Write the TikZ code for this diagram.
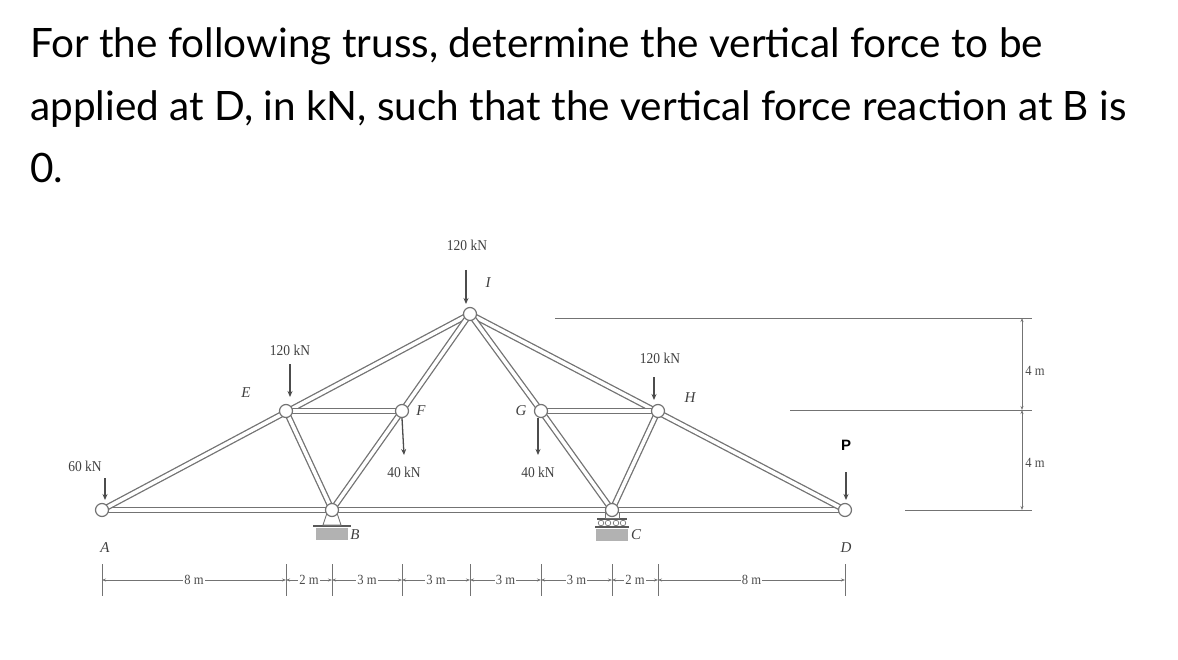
\documentclass[tikz,border=0pt]{standalone}
\usepackage{fontspec}
\setmainfont{Liberation Serif}
\newfontfamily\lato{Lato}
\newfontfamily\sans{Liberation Sans}
\usetikzlibrary{arrows.meta}
\begin{document}
\begin{tikzpicture}[x=1pt,y=-1pt,
  member/.style={draw=black!55,double=white,double distance=3.6pt,line width=1.3pt},
  joint/.style={circle,draw=black!55,fill=white,line width=1.2pt,inner sep=0pt,minimum size=13pt},
  lbl/.style={font=\fontsize{15}{15}\selectfont\itshape,text=black!75},
  load/.style={font=\fontsize{15}{15}\selectfont,text=black!75,inner sep=1pt,xscale=0.9},
  force/.style={-{Stealth[length=6pt,width=5pt]},draw=black!70,line width=1.3pt},
  title/.style={font=\lato\fontsize{40.5}{40.5}\selectfont,anchor=base west,inner sep=0pt},
  dim/.style={draw=black!55,line width=0.7pt},
  dimtxt/.style={font=\fontsize{14}{14}\selectfont,text=black!70,fill=white,inner sep=1pt,xscale=0.9}]
\useasboundingbox (0,0) rectangle (1178,660);
\node[title] (t1) at (30,58) {For the following truss, determine the vertical force to be};
\node[title] (t2) at (30,121) {applied at D, in kN, such that the vertical force reaction at B is};
\node[title] (t3) at (30,183) {0.};
% joint coordinates
\coordinate (A) at (102,510);
\coordinate (B) at (332,510);
\coordinate (C) at (612,510);
\coordinate (D) at (845,510);
\coordinate (E) at (286,411);
\coordinate (F) at (402,411);
\coordinate (I) at (470,314);
\coordinate (G) at (541,411);
\coordinate (H) at (658,411);
% supports
\fill[black!30] (316,528) rectangle (348,540);
\draw[black!65,line width=1.6pt] (313,526) -- (351,526);
\draw[black!55,fill=white,line width=0.9pt] (327,513) -- (323,525) -- (341,525) -- (337,513);
\fill[black!30] (596,529) rectangle (628,541);
\draw[black!65,line width=1.3pt] (595,527) -- (629,527);
\draw[black!65,line width=1.3pt] (597,519) -- (627,519);
\foreach \cx in {601,608,616,623} \draw[black!60,fill=white,line width=0.6pt] (\cx,523) circle (2.8pt);
\draw[black!55,fill=white,line width=0.9pt] (605,512) -- (605,518) -- (619,518) -- (619,512);
% members
\draw[member] (A) -- (D);
\draw[member] (A) -- (I);
\draw[member] (I) -- (D);
\draw[member] (E) -- (F);
\draw[member] (G) -- (H);
\draw[member] (E) -- (B);
\draw[member] (F) -- (B);
\draw[member] (I) -- (F);
\draw[member] (I) -- (G);
\draw[member] (G) -- (C);
\draw[member] (H) -- (C);
% joints
\foreach \j in {A,B,C,D,E,F,G,H,I} \node[joint] (j\j) at (\j) {};
% joint labels
\node[lbl] (lA) at (105,548) {A};
\node[lbl] (lB) at (355,535) {B};
\node[lbl] (lC) at (636,535) {C};
\node[lbl] (lD) at (846,548) {D};
\node[lbl] (lE) at (246,393) {E};
\node[lbl] (lF) at (421,411) {F};
\node[lbl] (lG) at (521,411) {G};
\node[lbl] (lH) at (690,398) {H};
\node[lbl] (lI) at (488,283) {I};
% loads
\node[load] (fA) at (85,466) {60 kN};
\coordinate (fAe) at (105,500);
\draw[force] (105,478) -- (fAe);
\node[load] (fE) at (290,350) {120 kN};
\coordinate (fEe) at (290,397);
\draw[force] (290,364) -- (fEe);
\node[load] (fI) at (467,245) {120 kN};
\coordinate (fIe) at (466,304);
\draw[force] (466,270) -- (fIe);
\node[load] (fH) at (660,358) {120 kN};
\coordinate (fHe) at (654,400);
\draw[force] (654,377) -- (fHe);
\node[load] (fF) at (404,472) {40 kN};
\coordinate (fFe) at (404,455);
\draw[force] (jF.south) -- (fFe);
\node[load] (fG) at (538,472) {40 kN};
\coordinate (fGe) at (538,455);
\draw[force] (538,418) -- (fGe);
\node[font=\sans\bfseries\fontsize{15}{15}\selectfont] (fP) at (846,445) {P};
\coordinate (fPe) at (846,500);
\draw[force] (846,472) -- (fPe);
% vertical dimensions
\draw[dim] (555,318) -- (1032,318);
\draw[dim] (790,410) -- (1032,410);
\draw[dim] (905,510) -- (1032,510);
\draw[dim,{Stealth[length=4pt,width=3pt]}-{Stealth[length=4pt,width=3pt]}] (1022,318) -- (1022,410);
\draw[dim,{Stealth[length=4pt,width=3pt]}-{Stealth[length=4pt,width=3pt]}] (1022,410) -- (1022,510);
\node[dimtxt] (v1) at (1035,371) {4 m};
\node[dimtxt] (v2) at (1035,463) {4 m};
% horizontal dimensions
\foreach \x in {102,286,332,402,470,541,612,658,845} \draw[dim] (\x,564) -- (\x,596);
\foreach \a/\b/\t in {102/286/8 m,286/332/2 m,332/402/3 m,402/470/3 m,470/541/3 m,541/612/3 m,612/658/2 m,658/845/8 m}{
  \draw[dim,{Stealth[length=4pt,width=3pt]}-{Stealth[length=4pt,width=3pt]}] (\a,580) -- (\b,580);
  \node[dimtxt] at ({(\a+\b)/2},580) {\t};
}
\end{tikzpicture}
\end{document}
